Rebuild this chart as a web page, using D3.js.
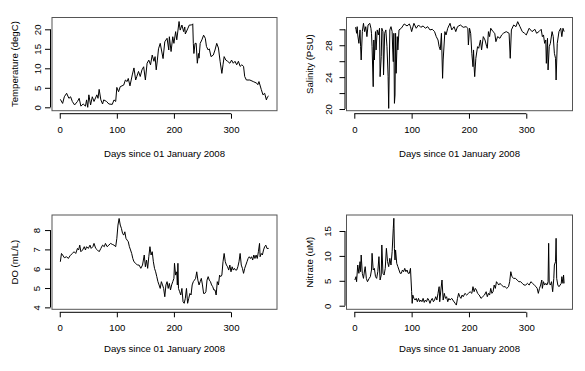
<!DOCTYPE html>
<html>
<head>
  <meta charset="utf-8">
  <script src="https://d3js.org/d3.v7.min.js"></script>
  <style>
    body { margin: 0; background: #fff; font-family: 'Liberation Sans', Arial, sans-serif; }
  </style>
</head>
<body>
<div id="my_dataviz"></div>
<script>
// x ticks shared by all panels
var xTicks = [0, 100, 200, 300];
var xLabel = "Days since 01 January 2008";

// [day, value]
var temperature = [[1,2.05],[5,1.0],[8,2.7],[12,3.6],[16,2.3],[19,2.7],[22,1.5],[26,0.6],[31,1.5],[34,2.3],
  [37,0.3],[41,0.85],[45,0.3],[47,1.9],[49,0.0],[51,3.2],[54,0.6],[57,2.7],[60,1.5],[65,3.2],
  [67,2.3],[69,4.6],[72,1.9],[75,0.85],[77,1.9],[82,1.5],[86,0.85],[92,0.75],[95,1.9],[98,1.5],
  [100,5.1],[103,4.0],[106,5.3],[112,5.7],[115,7.0],[118,6.6],[120,7.4],[123,5.5],[127,8.3],[130,10.1],
  [133,7.0],[135,7.9],[138,9.2],[141,7.9],[144,9.6],[147,10.4],[150,7.0],[153,11.3],[156,12.1],[159,10.9],
  [162,13.4],[165,11.8],[167,13.0],[169,9.6],[171,12.1],[173,15.0],[176,16.4],[181,12.5],[184,16.8],[188,17.7],
  [191,14.7],[192,18.1],[195,14.3],[198,18.1],[200,16.4],[203,19.4],[205,17.3],[209,22.0],[211,19.8],[214,21.1],
  [217,19.4],[219,20.6],[220,18.8],[224,20.1],[227,21.1],[231,21.1],[233,21.4],[234,16.4],[235,13.8],[237,16.4],
  [239,16.4],[241,11.3],[243,13.8],[244,12.6],[246,16.4],[249,17.3],[252,18.5],[255,17.7],[257,15.6],[260,14.7],
  [262,15.0],[265,13.0],[269,13.4],[272,14.7],[275,16.4],[278,15.2],[281,11.7],[284,8.7],[286,10.9],[288,13.0],
  [291,12.1],[294,11.8],[298,11.3],[301,12.1],[304,11.3],[307,11.8],[310,10.9],[313,11.8],[316,10.5],[319,10.9],
  [322,10.5],[324,7.9],[327,7.0],[333,7.0],[339,6.6],[345,6.2],[347,5.8],[349,6.6],[353,4.6],[356,3.2],
  [359,3.6],[362,1.9],[364,2.7],[366,2.9]];

var salinity = [[2,30.25],[3,30.0],[4,29.5],[5,30.33],[6,29.29],[8,28.24],[10,29.92],[11,27.82],[12,26.15],[14,29.71],
  [16,30.75],[18,29.71],[20,30.33],[22,29.08],[24,30.54],[27,30.75],[29,30.13],[30,29.5],[31,27.82],[33,22.8],
  [34,28.66],[35,26.15],[37,29.71],[38,27.41],[40,29.92],[42,29.29],[44,30.13],[45,24.06],[47,26.57],[48,30.13],
  [50,29.71],[51,24.27],[53,29.5],[55,29.92],[57,27.82],[59,24.06],[60,20.08],[62,29.92],[64,30.33],[66,29.71],
  [67,27.41],[68,25.94],[69,29.5],[70,20.71],[71,21.76],[72,29.5],[73,24.48],[75,29.08],[76,27.41],[78,29.92],
  [82,30.13],[87,30.67],[92,30.42],[96,30.67],[98,30.33],[100,29.71],[104,30.75],[108,30.13],[112,30.54],[116,30.25],
  [120,30.42],[124,30.13],[128,30.33],[132,29.92],[136,30.0],[140,29.71],[143,29.08],[146,28.66],[148,27.82],[150,27.41],
  [152,29.5],[154,23.85],[155,26.15],[158,29.71],[160,29.29],[163,30.13],[167,30.75],[170,29.92],[174,30.33],[177,29.71],
  [180,30.33],[185,30.54],[190,30.25],[195,30.33],[198,30.13],[199,28.03],[201,30.13],[203,29.5],[205,26.99],[207,25.31],
  [208,27.41],[209,25.31],[210,24.06],[212,26.36],[215,27.82],[217,27.62],[220,28.66],[222,27.41],[225,29.08],[228,28.66],
  [231,27.82],[232,27.62],[234,29.71],[236,29.08],[238,30.13],[242,29.71],[245,29.5],[247,28.45],[250,29.08],[254,28.87],
  [257,29.29],[260,29.5],[265,29.71],[270,29.5],[272,26.36],[274,29.92],[278,30.54],[282,30.33],[285,30.96],[289,30.33],
  [293,29.71],[297,29.5],[300,29.29],[305,30.13],[310,29.71],[315,30.0],[318,29.5],[322,29.71],[326,30.0],[328,29.08],
  [330,29.29],[332,28.24],[334,28.66],[335,25.73],[337,28.87],[338,24.9],[340,27.82],[342,28.24],[345,29.71],[347,29.08],
  [349,26.99],[351,26.36],[352,23.64],[354,28.24],[357,29.71],[360,30.13],[362,29.08],[364,30.13],[366,29.71]];

var dissolvedOxygen = [[1,6.36],[3,6.79],[5,6.71],[8,6.57],[12,6.62],[15,6.53],[18,6.67],[22,6.79],[25,6.88],[28,6.79],
  [31,7.05],[33,6.97],[35,7.22],[37,6.88],[40,6.97],[43,7.14],[45,6.97],[47,7.14],[50,7.05],[53,7.22],
  [55,7.05],[58,7.14],[60,7.31],[63,7.05],[66,6.97],[69,6.88],[72,7.05],[75,7.22],[78,7.14],[80,7.31],
  [83,7.14],[86,7.22],[89,7.31],[92,7.26],[95,7.22],[98,7.14],[100,7.57],[102,8.26],[104,8.6],[106,8.26],
  [108,8.09],[110,7.83],[112,7.74],[114,7.91],[116,7.57],[118,7.48],[120,7.4],[122,7.14],[124,6.97],[126,6.79],
  [128,6.53],[130,6.36],[133,6.28],[136,6.19],[139,6.19],[142,6.02],[145,6.19],[148,6.71],[150,6.1],[152,6.45],
  [154,6.02],[156,6.62],[158,7.14],[160,6.71],[162,6.88],[164,6.36],[166,6.02],[168,5.84],[170,5.59],[172,5.33],
  [174,5.16],[176,4.98],[178,5.33],[180,5.16],[182,4.98],[184,4.55],[186,5.16],[188,5.33],[190,4.98],[192,5.24],
  [194,4.9],[196,5.16],[198,5.33],[200,5.5],[201,6.28],[203,5.67],[205,5.84],[206,5.16],[207,6.28],[208,4.98],
  [210,4.81],[212,4.64],[214,4.98],[216,4.29],[218,4.21],[220,4.47],[222,4.98],[224,4.21],[226,4.47],[228,4.72],
  [230,4.64],[232,5.16],[234,5.33],[236,5.41],[238,5.5],[240,5.84],[242,5.41],[244,5.16],[246,5.33],[248,5.5],
  [250,5.16],[252,4.72],[254,4.72],[256,4.81],[258,5.41],[260,5.59],[262,5.41],[264,5.33],[266,5.16],[268,5.07],
  [270,4.9],[272,4.9],[274,4.64],[276,5.33],[278,5.16],[280,5.67],[282,5.59],[284,5.67],[286,6.36],[288,6.79],
  [290,6.36],[292,6.19],[294,6.1],[296,5.93],[298,6.19],[300,5.84],[302,6.1],[304,5.93],[306,6.02],[308,5.93],
  [310,5.93],[312,6.1],[314,6.36],[316,6.79],[318,6.19],[320,6.02],[322,5.76],[324,6.02],[326,6.19],[328,6.36],
  [330,6.53],[332,6.62],[334,6.53],[336,6.62],[338,6.45],[340,6.71],[342,6.53],[344,6.71],[346,6.53],[348,6.88],
  [350,7.31],[351,6.62],[353,6.79],[355,6.71],[357,6.97],[359,7.14],[361,7.22],[363,7.05],[366,7.05]];

var nitrate = [[1,5.16],[3,5.83],[4,4.82],[6,8.17],[8,6.5],[10,8.84],[11,6.83],[12,10.18],[14,6.5],[16,5.49],
  [18,7.17],[19,7.84],[21,5.49],[23,4.82],[26,5.49],[28,5.83],[30,7.17],[31,10.52],[33,7.17],[35,7.5],
  [37,5.83],[39,5.49],[41,6.83],[43,9.85],[45,5.16],[47,6.16],[48,12.19],[50,6.5],[52,6.16],[54,7.5],
  [56,11.52],[58,8.84],[60,7.84],[62,9.51],[64,8.17],[66,10.85],[68,15.54],[69,17.55],[70,11.52],[71,9.18],
  [72,11.19],[74,8.51],[76,7.84],[78,7.17],[80,6.5],[82,6.5],[84,7.17],[86,6.83],[88,7.5],[90,6.83],
  [92,7.17],[94,6.5],[96,6.5],[98,7.5],[99,5.16],[100,2.81],[101,0.47],[102,2.14],[104,1.47],[106,1.14],
  [108,1.47],[110,0.8],[112,1.47],[114,0.8],[116,1.14],[118,0.8],[120,1.47],[122,0.67],[124,1.14],[126,0.8],
  [128,1.47],[130,1.14],[132,0.47],[134,1.14],[136,1.47],[138,0.8],[140,1.14],[142,1.81],[144,1.14],[146,2.48],
  [148,3.82],[149,0.8],[151,3.15],[153,5.16],[155,1.14],[157,2.48],[159,1.47],[161,1.81],[163,0.8],[165,1.47],
  [167,1.14],[170,1.47],[173,0.94],[176,0.47],[178,0.13],[180,1.47],[182,2.48],[184,1.81],[186,1.47],[188,2.14],
  [190,1.81],[193,2.48],[196,2.14],[199,2.48],[202,2.81],[205,2.48],[207,3.82],[209,2.81],[211,3.48],[213,3.15],
  [215,2.48],[218,2.14],[221,1.47],[224,1.81],[227,2.14],[230,2.81],[232,1.81],[234,2.48],[236,2.14],[238,3.48],
  [240,2.48],[242,2.81],[244,4.15],[246,3.48],[248,4.82],[250,4.49],[252,4.15],[254,4.49],[257,4.15],[260,3.82],
  [263,3.82],[266,3.48],[269,3.82],[271,4.82],[273,6.83],[275,5.83],[278,5.49],[281,5.49],[284,5.16],[287,4.82],
  [290,4.82],[293,4.49],[296,4.15],[299,4.15],[302,4.49],[305,4.15],[308,4.82],[311,4.49],[314,4.15],[317,3.82],
  [319,3.48],[321,2.48],[323,3.48],[325,4.15],[327,5.16],[328,3.48],[330,4.82],[332,4.15],[334,4.49],[336,4.15],
  [338,4.82],[339,12.53],[340,4.49],[342,4.15],[344,4.82],[346,2.81],[348,5.49],[349,8.17],[351,8.84],[352,13.53],
  [353,5.49],[355,4.15],[357,3.82],[359,4.15],[361,4.49],[362,5.83],[364,4.49],[365,6.16],[366,4.49]];

var tempTicks = [0, 5, 10, 15, 20];
var salinityTicks = [20, 22, 24, 26, 28, 30];
var salinityLabelled = [20, 24, 28];
var doTicks = [4, 5, 6, 7, 8];
var nitrateTicks = [0, 5, 10, 15];

var svg = d3.select("#my_dataviz")
  .append("svg")
  .attr("width", 585)
  .attr("height", 371);

var fontSize = 9.6;

function drawPanel(p) {
  var x = d3.scaleLinear().domain([-13.6, 380.6]).range([p.left, p.right]);
  var y = d3.scaleLinear().domain(p.yDomain).range([p.bottom, p.top]);
  var g = svg.append("g");

  // series
  g.append("path")
    .datum(p.data)
    .attr("fill", "none")
    .attr("stroke", "#000")
    .attr("stroke-width", 1)
    .attr("stroke-linejoin", "round")
    .attr("d", d3.line()
      .x(function (d) { return x(d[0]); })
      .y(function (d) { return y(d[1]); }));

  // box
  g.append("rect")
    .attr("x", p.left).attr("y", p.top)
    .attr("width", p.right - p.left).attr("height", p.bottom - p.top)
    .attr("fill", "none").attr("stroke", "#555").attr("stroke-width", 1);

  // x axis (line only between first and last tick, R style)
  var xa = g.append("g")
    .attr("transform", "translate(0," + (p.bottom + 3) + ")")
    .call(d3.axisBottom(x).tickValues(xTicks).tickSize(5).tickPadding(7.2));
  xa.select(".domain").remove();
  xa.append("line")
    .attr("x1", x(xTicks[0])).attr("x2", x(xTicks[xTicks.length - 1]))
    .attr("stroke", "#000");
  xa.selectAll("text").style("font-size", fontSize + "px").style("font-family", "'Liberation Sans', Arial, sans-serif").attr("fill", "#000");

  // y axis with rotated labels
  var axisX = p.left - 1.5;
  var ya = g.append("g")
    .attr("transform", "translate(" + axisX + ",0)")
    .call(d3.axisLeft(y).tickValues(p.yTicks).tickSize(5.5)
      .tickFormat(function (d) { return p.yLabelled.indexOf(d) >= 0 ? d : ""; }));
  ya.select(".domain").remove();
  ya.append("line")
    .attr("y1", y(p.yTicks[0])).attr("y2", y(p.yTicks[p.yTicks.length - 1]))
    .attr("stroke", "#000");
  ya.selectAll("text")
    .attr("x", 0).attr("dy", "0.35em")
    .attr("transform", "translate(" + (p.labelX - axisX) + ",0) rotate(-90)")
    .style("text-anchor", "middle")
    .style("font-size", fontSize + "px")
    .style("font-family", "'Liberation Sans', Arial, sans-serif")
    .attr("fill", "#000");

  // titles
  svg.append("text")
    .attr("x", (p.left + p.right) / 2)
    .attr("y", p.xTitleY)
    .attr("dy", "0.35em")
    .style("text-anchor", "middle")
    .style("font-size", fontSize + "px")
    .text(xLabel);

  svg.append("text")
    .attr("transform", "translate(" + p.titleX + "," + ((p.top + p.bottom) / 2) + ") rotate(-90)")
    .attr("dy", "0.35em")
    .style("text-anchor", "middle")
    .style("font-size", fontSize + "px")
    .text(p.yTitle);
}

drawPanel({ data: temperature, yDomain: [-0.87, 23.03], yTicks: tempTicks, yLabelled: tempTicks,
  yTitle: "Temperature (degC)", left: 52, right: 277, top: 17.5, bottom: 110.7,
  labelX: 37.5, titleX: 15, xTitleY: 154 });
drawPanel({ data: salinity, yDomain: [19.79, 31.48], yTicks: salinityTicks, yLabelled: salinityLabelled,
  yTitle: "Salinity (PSU)", left: 346.5, right: 572.5, top: 17.5, bottom: 110.7,
  labelX: 328.5, titleX: 310, xTitleY: 154 });
drawPanel({ data: dissolvedOxygen, yDomain: [3.9, 8.78], yTicks: doTicks, yLabelled: doTicks,
  yTitle: "DO (mL/L)", left: 52, right: 277, top: 215, bottom: 309.3,
  labelX: 37, titleX: 15, xTitleY: 349 });
drawPanel({ data: nitrate, yDomain: [-0.72, 18.21], yTicks: nitrateTicks, yLabelled: nitrateTicks,
  yTitle: "Nitrate (uM)", left: 346.5, right: 572.5, top: 215, bottom: 309.3,
  labelX: 328, titleX: 310, xTitleY: 349 });
</script>
</body>
</html>
